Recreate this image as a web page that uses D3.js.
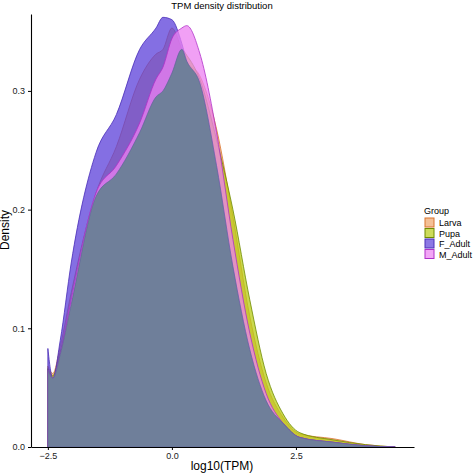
<!DOCTYPE html><html><head><meta charset="utf-8"><script src="https://cdn.jsdelivr.net/npm/d3@7"></script>
<style>body{margin:0;background:#fff}text{font-family:"Liberation Sans",Arial,sans-serif}</style></head><body><svg id="c" width="474" height="474"></svg>
<script>
const xs=[-2.5,-2.4,-2.25,-2.03,-1.53,-1.12,-0.65,-0.32,-0.18,0,0.2,0.3,0.56,0.9,1.23,1.57,1.9,2.24,2.58,3.25,3.9,4.5];
const groups=["Larva","Pupa","F_Adult","M_Adult"];
const fills=["#f0a56a","#b8cc14","#5b3fd9","#ec80f2"];
const strokes=["#d9742e","#6e8a00","#4a2fb8","#b030c8"];
const larva=[.068,.062,.085,.13,.214,.253,.31,.331,.335,.353,.335,.325,.313,.268,.194,.11,.054,.025,.011,.007,.002,0];
const pupa=[.066,.06,.08,.12,.211,.23,.265,.295,.30,.315,.335,.33,.31,.259,.2,.124,.062,.028,.012,.006,.002,0];
const fAdult=[.083,.058,.09,.155,.248,.28,.335,.353,.362,.36,.34,.325,.307,.237,.152,.082,.039,.02,.008,.004,.001,0];
const mAdult=[.065,.058,.078,.124,.214,.237,.273,.31,.32,.344,.353,.355,.332,.265,.175,.096,.045,.02,.008,.004,.001,0];
const series=[larva,pupa,fAdult,mAdult];
const common=xs.map((_,i)=>d3.min(series,s=>s[i]));
const xTicks=[-2.5,0,2.5], yTicks=[0,0.1,0.2,0.3];
const svg=d3.select("#c");
const L=31,R=414,T=14,B=447;
const x=d3.scaleLinear().domain([-2.84,4.88]).range([L,R]);
const y=d3.scaleLinear().domain([0,0.3648]).range([B,T]);
const area=d3.area().x((d,i)=>x(xs[i])).y0(y(0)).y1(d=>y(d)).curve(d3.curveMonotoneX);
series.forEach((s,k)=>svg.append("path").attr("d",area(s)).attr("fill",fills[k]).attr("fill-opacity",0.75).attr("stroke",strokes[k]).attr("stroke-width",0.8));
svg.append("path").attr("d",area(common)).attr("fill","#6f7f9a").attr("stroke","#5a5f9a").attr("stroke-width",0.6);
const gx=svg.append("g").attr("transform",`translate(0,${B})`).call(d3.axisBottom(x).tickValues(xTicks).tickFormat(d3.format(".1f")).tickSize(3).tickSizeOuter(0));
const gy=svg.append("g").attr("transform",`translate(${L},0)`).call(d3.axisLeft(y).tickValues(yTicks).tickFormat(d3.format(".1f")).tickSize(3).tickSizeOuter(0));
[gx,gy].forEach(g=>{g.select(".domain").attr("stroke","#000").attr("stroke-width",1.1);g.selectAll("text").attr("font-size",9).attr("fill","#222");});
svg.append("text").attr("x",222).attr("y",9).attr("text-anchor","middle").attr("font-size",9.5).text("TPM density distribution");
svg.append("text").attr("x",222).attr("y",470).attr("text-anchor","middle").attr("font-size",12).text("log10(TPM)");
svg.append("text").attr("transform","translate(9,230) rotate(-90)").attr("text-anchor","middle").attr("font-size",12).text("Density");
svg.append("text").attr("x",424).attr("y",214).attr("font-size",9).text("Group");
groups.forEach((g,k)=>{svg.append("rect").attr("x",425).attr("y",218+k*10.5).attr("width",9).attr("height",9).attr("fill",fills[k]).attr("fill-opacity",0.7).attr("stroke",strokes[k]);
svg.append("text").attr("x",439).attr("y",226+k*10.5).attr("font-size",9).text(g);});
</script></body></html>
